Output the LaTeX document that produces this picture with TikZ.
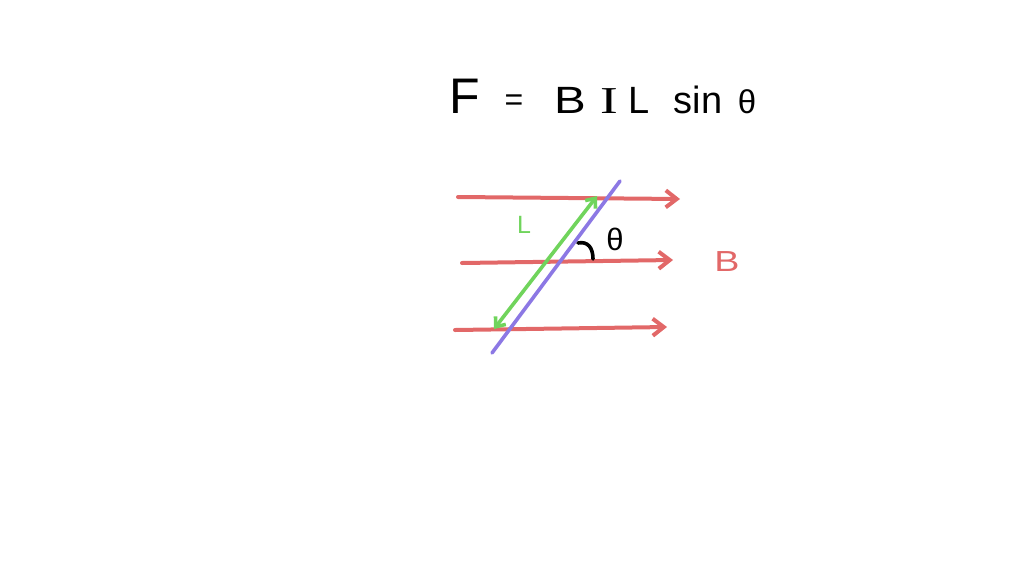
\documentclass[tikz,border=0pt]{standalone}
\usepackage{fontspec}
\setmainfont{Liberation Sans}
\newfontfamily\barfont{Liberation Serif}
\usetikzlibrary{arrows.meta}
\definecolor{fieldred}{RGB}{226,104,104}
\definecolor{wireblue}{RGB}{140,120,228}
\definecolor{lengreen}{RGB}{112,212,92}
\begin{document}
\begin{tikzpicture}[x=1pt,y=-1pt,
  field/.style={draw=fieldred,line width=4pt,line cap=round,-{Straight Barb[length=11pt,width=17pt,line width=4pt]}},
  wire/.style={draw=wireblue,line width=3.6pt,line cap=round},
  lenarrow/.style={draw=lengreen,line width=3.6pt,line cap=round,{Straight Barb[length=8pt,width=13pt,line width=3.6pt]}-{Straight Barb[length=8pt,width=13pt,line width=3.6pt]}},
  lbl/.style={inner sep=0pt},
  eq/.style={lbl,font=\fontsize{38}{40}\selectfont,anchor=base}]
\useasboundingbox (0,0) rectangle (1024,576);
% formula
\node[eq,font=\fontsize{50}{54}\selectfont] (fF) at (465,113) {F};
\node[eq,font=\fontsize{32}{34}\selectfont] (fEq) at (514,110) {=};
\node[eq,xscale=1.25] (fB) at (570,113) {B};
\node[eq,font=\fontsize{38}{40}\selectfont\barfont,xscale=1.4] (fI) at (609,113) {I};
\node[eq] (fL) at (639,113) {L};
\node[eq] (fsin) at (698,113) {sin};
\node[eq,font=\fontsize{33}{36}\selectfont] (fth) at (747,113) {θ};
% field lines
\coordinate (t1) at (458,197); \coordinate (t2) at (680,199);
\coordinate (m1) at (462,263); \coordinate (m2) at (673,260);
\coordinate (b1) at (455,330); \coordinate (b2) at (667,327);
\draw[field] (t1) -- (t2);
\draw[field] (m1) -- (m2);
\draw[field] (b1) -- (b2);
% wire
\coordinate (w1) at (492,353); \coordinate (w2) at (620,181);
\draw[wire] (w1) -- (w2);
% length
\coordinate (l1) at (597,196); \coordinate (l2) at (494,329);
\draw[lenarrow] (l1) -- (l2);
\node[lbl,text=lengreen,font=\fontsize{25}{27}\selectfont] (L) at (524,225) {L};
% angle
\coordinate (a1) at (578,243); \coordinate (a2) at (593,259);
\draw[line width=3.6pt,line cap=round] (a1) .. controls (588,241) and (593,248) .. (a2);
\node[lbl,font=\fontsize{31}{33}\selectfont] (theta) at (615,239) {θ};
\node[lbl,text=fieldred,font=\fontsize{29}{31}\selectfont,xscale=1.3] (B) at (727,262) {B};
\end{tikzpicture}
\end{document}
